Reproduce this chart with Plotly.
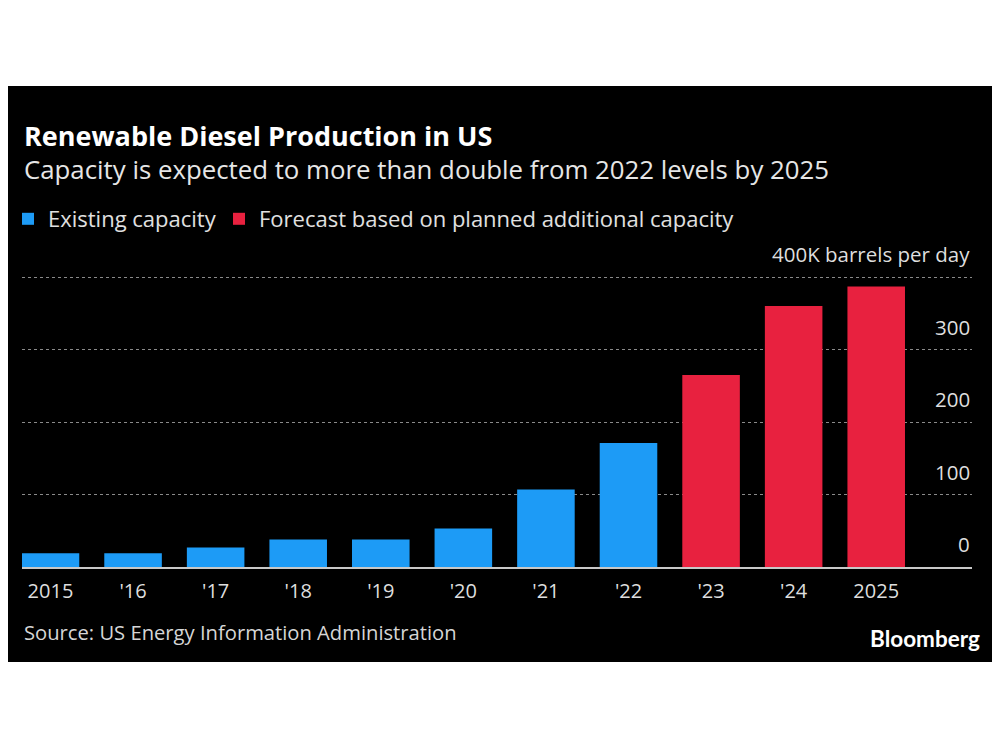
import plotly.graph_objects as go

categories = ["2015", "'16", "'17", "'18", "'19", "'20", "'21", "'22", "'23", "'24", "2025"]
existing_cats = ["2015", "'16", "'17", "'18", "'19", "'20", "'21", "'22"]
existing_vals = [19, 19, 27, 38, 38, 53, 107, 171]
forecast_cats = ["'23", "'24", "2025"]
forecast_vals = [265, 360, 387]
grid_vals = [0, 100, 200, 300, 400]
grid_labels = ["0", "100", "200", "300", "400K barrels per day"]

BLUE = "#1d9bf6"
RED = "#e8213f"
FONT = "Open Sans"

# page has an 8px body margin: figure is 992x734, coordinates below are in reference pixels
W, H = 992, 734
L, R, T = 14, 28, 252
PW = W - L - R
PH = 307
B = H - T - PH

def py(Y):
    return (567 - Y) / PH

def px(X):
    return (X - 22) / PW

fig = go.Figure()
fig.add_trace(go.Bar(x=existing_cats, y=existing_vals, name="Existing capacity",
                     marker=dict(color=BLUE, line=dict(width=0)), legend="legend"))
fig.add_trace(go.Bar(x=forecast_cats, y=forecast_vals,
                     name="Forecast based on planned additional capacity",
                     marker=dict(color=RED, line=dict(width=0)), legend="legend2"))

annotations = []
for v, lab in zip(grid_vals, grid_labels):
    annotations.append(dict(x=1, xref="paper", y=v, yref="y", text=lab,
                            xanchor="right", yanchor="bottom", yshift=7,
                            showarrow=False,
                            font=dict(family=FONT, size=20.5, color="#dedede")))

annotations += [
    dict(x=px(22), xref="paper", y=py(135), yref="paper", xanchor="left", yanchor="middle",
         text="<b>Renewable Diesel Production in US</b>", showarrow=False,
         font=dict(family=FONT, size=27, color="#ffffff")),
    dict(x=px(22), xref="paper", y=py(169), yref="paper", xanchor="left", yanchor="middle",
         text="Capacity is expected to more than double from 2022 levels by 2025", showarrow=False,
         font=dict(family=FONT, size=25.8, color="#e6e6e6")),
    dict(x=px(22), xref="paper", y=py(632), yref="paper", xanchor="left", yanchor="middle",
         text="Source: US Energy Information Administration", showarrow=False,
         font=dict(family=FONT, size=20.2, color="#d6d6d6")),
    dict(x=px(982), xref="paper", y=py(638), yref="paper",
         xanchor="right", yanchor="middle",
         text="<b>Bloomberg</b>", showarrow=False,
         font=dict(family="Lato", size=22.5, color="#ffffff")),
]

legend_font = dict(family=FONT, size=22, color="#e0e0e0")
fig.update_layout(
    width=W, height=H,
    margin=dict(l=L, r=R, t=T, b=B, pad=0, autoexpand=False),
    paper_bgcolor="white", plot_bgcolor="black",
    barmode="overlay", bargap=0.303,
    font=dict(family=FONT, color="#dedede"),
    showlegend=True,
    legend=dict(orientation="h", x=px(8), xanchor="left", y=py(219), yanchor="middle",
                font=legend_font, bgcolor="rgba(0,0,0,0)"),
    legend2=dict(orientation="h", x=px(219), xanchor="left", y=py(219), yanchor="middle",
                 font=legend_font, bgcolor="rgba(0,0,0,0)"),
    annotations=annotations,
    shapes=[dict(type="rect", xref="paper", yref="paper",
                 x0=px(0) - 0.01, x1=px(1000) + 0.01,
                 y0=py(662), y1=py(86), fillcolor="black", line=dict(width=0), layer="below")],
)

fig.update_xaxes(type="category", categoryorder="array", categoryarray=categories,
                 range=[-0.345, 11.16], showline=True, linecolor="#c8c8c8", linewidth=2,
                 showgrid=False, ticks="", ticklabelstandoff=5,
                 tickfont=dict(family=FONT, size=20, color="#dedede"))
fig.update_yaxes(range=[0, PH / 0.725], tickvals=grid_vals[1:], showticklabels=False,
                 showgrid=True, gridcolor="#8a8a8a", griddash="dot", gridwidth=1,
                 zeroline=False, showline=False)

fig.write_html("out.html")
